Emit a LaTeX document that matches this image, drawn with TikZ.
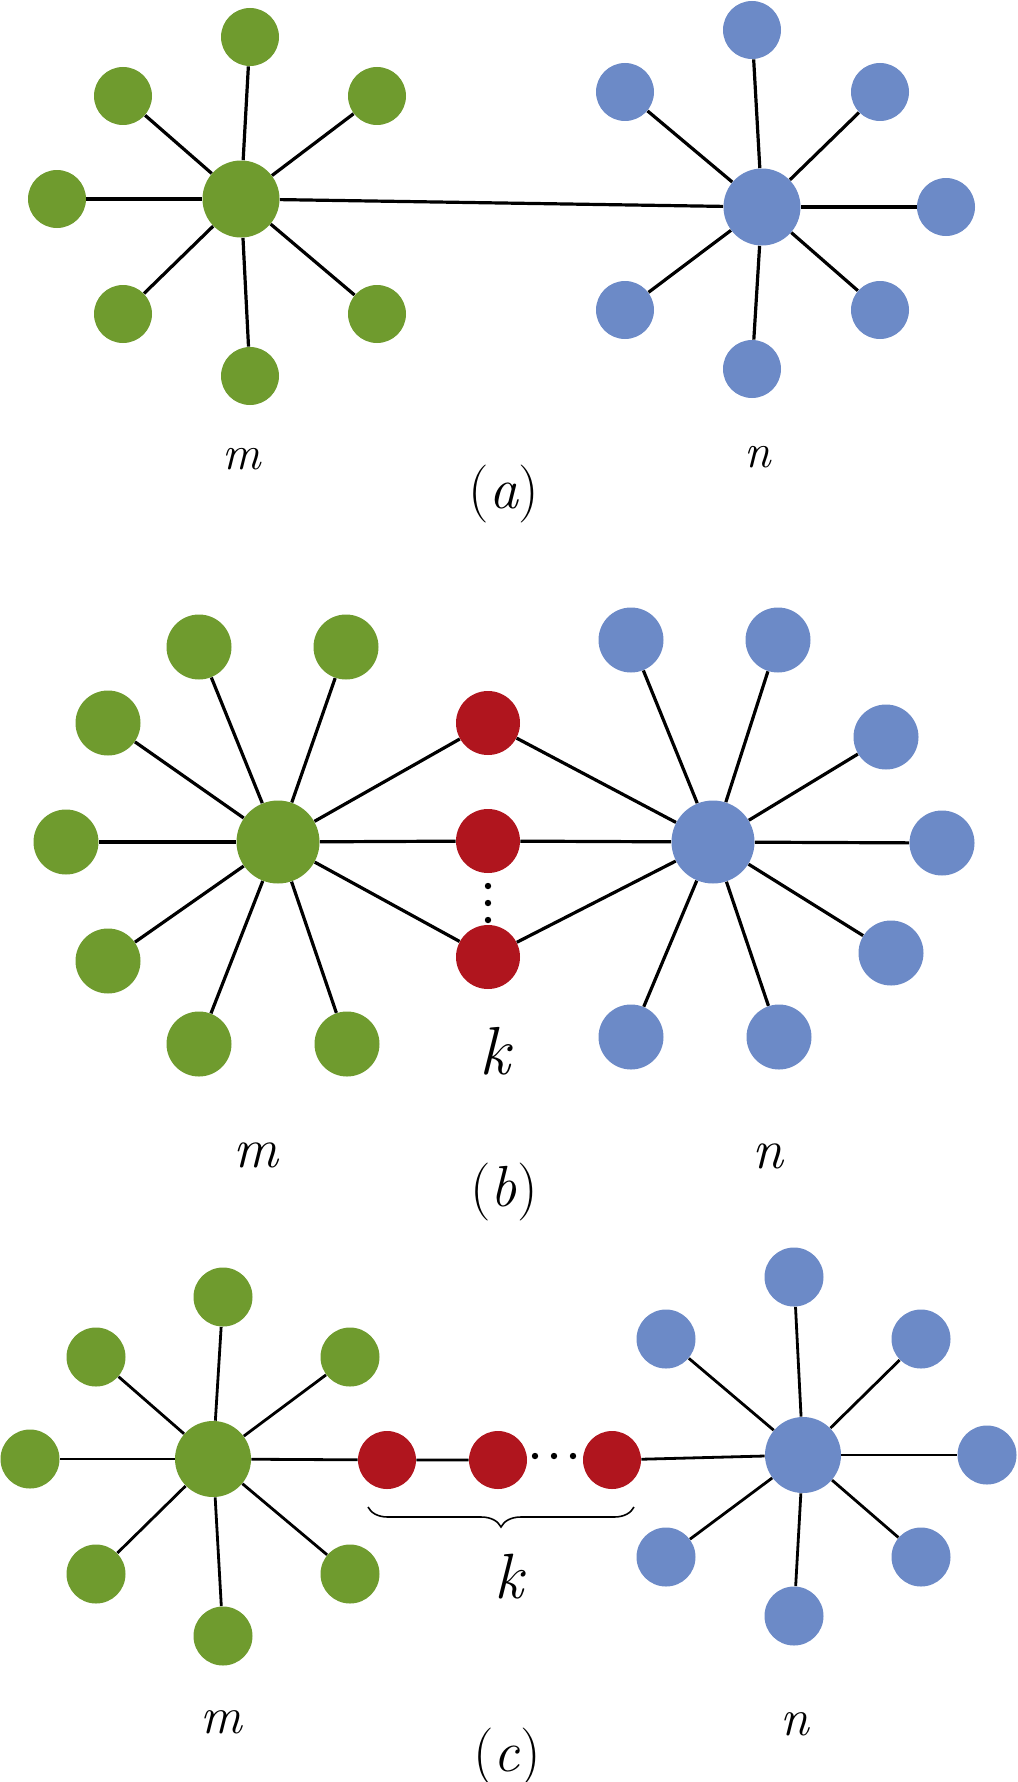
\documentclass[tikz,border=0pt]{standalone}
\usepackage{fontspec}
\usetikzlibrary{decorations.pathreplacing}
\definecolor{sgreen}{HTML}{6F9B2E}
\definecolor{sblue}{HTML}{6C8AC7}
\definecolor{sred}{HTML}{B0151E}

\begin{document}
\begin{tikzpicture}[x=0.5pt, y=-0.5pt,
    vert/.style={circle, inner sep=0pt, minimum size=#1},
    gnode/.style={vert=#1, fill=sgreen},
    bnode/.style={vert=#1, fill=sblue},
    rnode/.style={vert=#1, fill=sred},
    edge/.style={line width=1.6pt},
    lbl/.style={inner sep=0pt, font=\fontsize{#1}{#1}\selectfont}]
    \useasboundingbox (0,0) rectangle (1017,1782);

    % ---- (a) ----
    % Hubs
    \node[gnode=38.5pt] (a-m) at (241,199) {};
    \node[bnode=38.5pt] (a-n) at (762,207) {};
    \draw[edge] (a-m) -- (a-n);
    % Green star
    \foreach \i/\x/\y in {1/250/37, 2/123/96, 3/377/96, 4/57/199, 5/123/314, 6/377/314, 7/250/376} {
        \node[gnode=29pt] (a-m\i) at (\x,\y) {};
        \draw[edge] (a-m) -- (a-m\i);
    }
    % Blue star
    \foreach \i/\x/\y in {1/752/30, 2/625/92, 3/880/92, 4/946/207, 5/625/310, 6/880/310, 7/752/369} {
        \node[bnode=29pt] (a-n\i) at (\x,\y) {};
        \draw[edge] (a-n) -- (a-n\i);
    }
    \node[lbl=24pt] (a-mlbl) at (242,459) {\textit{m}};
    \node[lbl=24pt] (a-nlbl) at (758,457) {\textit{n}};
    \node[lbl=29pt] (a-cap) at (504,494) {(\textit{a})};

    % ---- (b) ----
    \node[gnode=41.5pt] (b-m) at (278,842) {};
    \node[bnode=41.5pt] (b-n) at (713,842) {};
    % Green star
    \foreach \i/\x/\y in {1/199/647, 2/346/647, 3/108/723, 4/66/842, 5/108/961, 6/199/1044, 7/347/1044} {
        \node[gnode=32.5pt] (b-m\i) at (\x,\y) {};
        \draw[edge] (b-m) -- (b-m\i);
    }
    % Blue star
    \foreach \i/\x/\y in {1/631/640, 2/778/640, 3/886/737, 4/942/843, 5/891/953, 6/631/1037, 7/779/1037} {
        \node[bnode=32.5pt] (b-n\i) at (\x,\y) {};
        \draw[edge] (b-n) -- (b-n\i);
    }
    % Parallel red paths
    \foreach \i/\y in {1/723, 2/841, 3/957} {
        \node[rnode=32pt] (b-k\i) at (488,\y) {};
        \draw[edge] (b-m) -- (b-k\i) -- (b-n);
    }
    \foreach \y in {886,903,920} {
        \fill (488,\y) circle (1.6pt);
    }
    \node[lbl=34pt] (b-klbl) at (496,1051) {\textit{k}};
    \node[lbl=28pt] (b-mlbl) at (257,1155) {\textit{m}};
    \node[lbl=28pt] (b-nlbl) at (769,1156) {\textit{n}};
    \node[lbl=29pt] (b-cap) at (504,1192) {(\textit{b})};

    % ---- (c) ----
    \node[gnode=38pt] (c-m) at (213,1459) {};
    \node[bnode=38pt] (c-n) at (803,1455) {};
    % Green star
    \foreach \i/\x/\y in {1/223/1297, 2/96/1357, 3/350/1357, 4/30/1459, 5/96/1574, 6/350/1574, 7/223/1636} {
        \node[gnode=29.5pt] (c-m\i) at (\x,\y) {};
        \draw[edge, line width=1.4pt] (c-m) -- (c-m\i);
    }
    % Blue star
    \foreach \i/\x/\y in {1/794/1277, 2/666/1339, 3/921/1339, 4/987/1455, 5/666/1557, 6/921/1557, 7/794/1616} {
        \node[bnode=29.5pt] (c-n\i) at (\x,\y) {};
        \draw[edge, line width=1.4pt] (c-n) -- (c-n\i);
    }
    % Red chain
    \node[rnode=29pt] (c-k1) at (387,1460) {};
    \node[rnode=29pt] (c-k2) at (498,1460) {};
    \node[rnode=29pt] (c-k3) at (612,1460) {};
    \draw[edge, line width=1.4pt] (c-m) -- (c-k1) -- (c-k2);
    \draw[edge, line width=1.4pt] (c-k3) -- (c-n);
    \foreach \x in {535,554,573} {
        \fill (\x,1456) circle (1.6pt);
    }
    % Brace
    \coordinate (c-bl) at (368,1507);
    \coordinate (c-br) at (634,1507);
    \draw[line width=0.8pt, decorate, decoration={brace, mirror, amplitude=10pt}] (c-bl) -- (c-br);
    \node[lbl=32pt] (c-klbl) at (510,1577) {\textit{k}};
    \node[lbl=26pt] (c-mlbl) at (222,1722) {\textit{m}};
    \node[lbl=26pt] (c-nlbl) at (795,1724) {\textit{n}};
    \node[lbl=29pt] (c-cap) at (507,1757) {(\textit{c})};
\end{tikzpicture}
\end{document}
